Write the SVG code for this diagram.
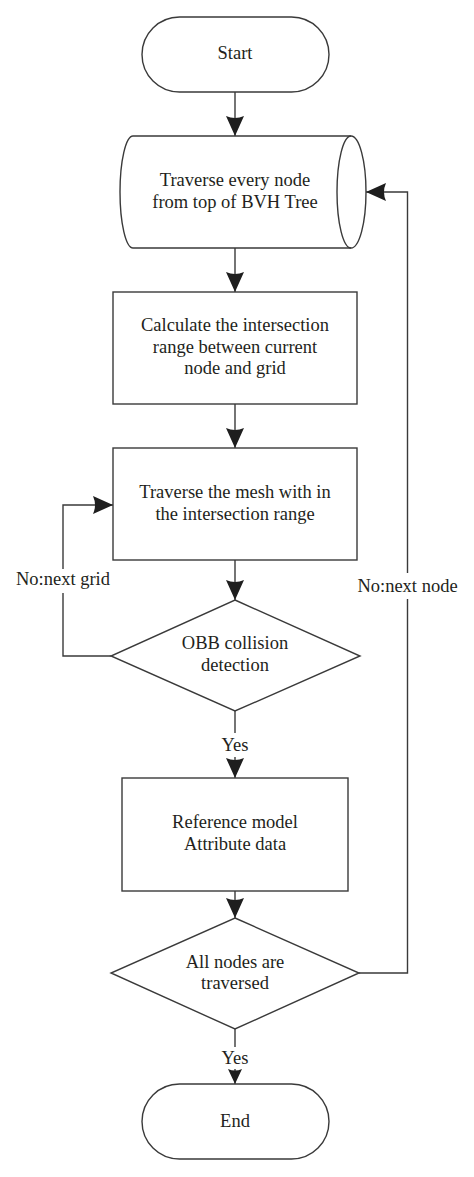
<svg xmlns="http://www.w3.org/2000/svg" width="474" height="1177" viewBox="0 0 474 1177">
<style>
.shape{fill:#fff;stroke:#3a3a3a;stroke-width:1.4}
.conn{fill:none;stroke:#3a3a3a;stroke-width:1.4}
text{font-family:"Liberation Serif","Times New Roman",serif;font-size:18.5px;fill:#231f20;text-anchor:middle}
</style>
<defs>
<marker id="ah" viewBox="0 0 20 18" refX="20" refY="9" markerWidth="20" markerHeight="18" markerUnits="userSpaceOnUse" orient="auto">
<path d="M0,0 L20,9 L0,18 Q4,9 0,0 Z" fill="#1e1e1e"/>
</marker>
<marker id="ahs" viewBox="0 0 15 14" refX="15" refY="7" markerWidth="15" markerHeight="14" markerUnits="userSpaceOnUse" orient="auto">
<path d="M0,0 L15,7 L0,14 Q3,7 0,0 Z" fill="#1e1e1e"/>
</marker>
</defs>
<rect width="474" height="1177" fill="#fff"/>
<g id="connectors">
<path class="conn" d="M235,92 V136" marker-end="url(#ah)"/>
<path class="conn" d="M235,248 V292" marker-end="url(#ah)"/>
<path class="conn" d="M235,404 V448" marker-end="url(#ah)"/>
<path class="conn" d="M235,560 V600" marker-end="url(#ah)"/>
<path class="conn" d="M235,711 V733"/>
<path class="conn" d="M235,757 V778" marker-end="url(#ah)"/>
<path class="conn" d="M235,891 V918" marker-end="url(#ah)"/>
<path class="conn" d="M235,1029 V1047"/>
<path class="conn" d="M235,1069 V1084" marker-end="url(#ahs)"/>
<path class="conn" d="M359,973 H407.5 V599"/>
<path class="conn" d="M407.5,573 V192 H366" marker-end="url(#ah)"/>
<path class="conn" d="M111,656 H63 V593"/>
<path class="conn" d="M63,569 V505 H113" marker-end="url(#ah)"/>
<text x="63" y="585">No:next grid</text>
<text x="407.5" y="592">No:next node</text>
<text x="235" y="751">Yes</text>
<text x="235" y="1064">Yes</text>
</g>
<g id="start">
<rect class="shape" x="142" y="17" width="187" height="75" rx="37.5" ry="37.5"/>
<text x="235" y="59">Start</text>
</g>
<g id="traverse-bvh">
<path class="shape" d="M133,136 L351,136 A15,56 0 0 1 351,248 L133,248 A13,56 0 0 1 133,136 Z"/>
<path class="conn" d="M351,136 A14,56 0 0 0 351,248"/>
<text x="235" y="186">Traverse every node</text>
<text x="235" y="208">from top of BVH Tree</text>
</g>
<g id="calc-range">
<rect class="shape" x="113" y="292" width="244" height="112"/>
<text x="235" y="331">Calculate the intersection</text>
<text x="235" y="353">range between current</text>
<text x="235" y="374">node and grid</text>
</g>
<g id="traverse-mesh">
<rect class="shape" x="113" y="448" width="244" height="112"/>
<text x="235" y="498">Traverse the mesh with in</text>
<text x="235" y="520">the intersection range</text>
</g>
<g id="obb">
<path class="shape" d="M235,600 L360,656 L235,711 L111,656 Z"/>
<text x="235" y="649">OBB collision</text>
<text x="235" y="671">detection</text>
</g>
<g id="reference">
<rect class="shape" x="122" y="778" width="226" height="113"/>
<text x="235" y="828">Reference model</text>
<text x="235" y="850">Attribute data</text>
</g>
<g id="all-nodes">
<path class="shape" d="M235,918 L359,973 L235,1029 L111,973 Z"/>
<text x="235" y="968">All nodes are</text>
<text x="235" y="989">traversed</text>
</g>
<g id="end">
<rect class="shape" x="142" y="1084" width="187" height="75" rx="37.5" ry="37.5"/>
<text x="235" y="1127">End</text>
</g>
</svg>
